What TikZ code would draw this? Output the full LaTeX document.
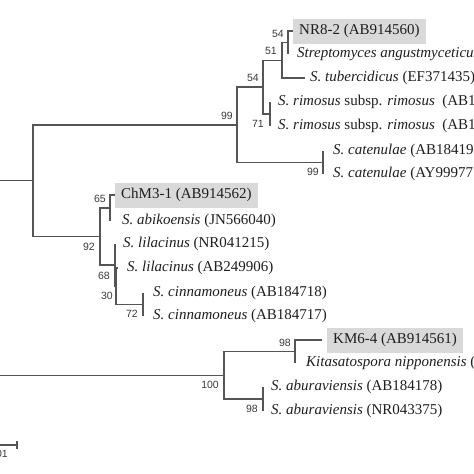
\documentclass[tikz,border=0pt]{standalone}
\usepackage{fontspec}
\setmainfont{Liberation Serif}
\newfontfamily\bsfont{Liberation Sans}
\definecolor{branchc}{HTML}{555555}
\definecolor{txtc}{HTML}{1E1E1E}
\definecolor{bootc}{HTML}{3A3A3A}
\definecolor{boxc}{HTML}{D9D9D9}
\begin{document}
\begin{tikzpicture}[x=1pt,y=-1pt,
  branch/.style={draw=branchc, line width=1.45pt},
  leaf/.style={anchor=west, inner xsep=0pt, inner ysep=0pt, text height=10.5pt, text depth=3.5pt, font=\fontsize{15}{18}\selectfont, text=txtc},
  strain/.style={leaf, fill=boxc, inner xsep=6pt, inner ysep=5.5pt},
  boot/.style={anchor=east, inner sep=0pt, font=\bsfont\fontsize{10.5}{12}\selectfont, text=bootc},
]
\useasboundingbox (0,0) rectangle (474,474);

% internal nodes
\coordinate (n54a) at (288,42.5);
\coordinate (n51)  at (282,60.25);
\coordinate (n71)  at (270,114);
\coordinate (n54b) at (263,87.1);
\coordinate (n99c) at (323,162.5);
\coordinate (n99)  at (237,124.8);
\coordinate (n65)  at (110,208);
\coordinate (n72)  at (143,304.5);
\coordinate (n30)  at (116,286.25);
\coordinate (n68)  at (115,265.1);
\coordinate (n92)  at (100,236.6);
\coordinate (nA)   at (33,180.7);
\coordinate (n98a) at (295,351.5);
\coordinate (n98b) at (263,399);
\coordinate (n100) at (224,375.25);
\coordinate (root) at (-10,278);

% tips
\coordinate (t2)  at (288,54);
\coordinate (t3)  at (305,78);
\coordinate (t4)  at (270,102);
\coordinate (t5)  at (270,126);
\coordinate (t6)  at (323,151);
\coordinate (t7)  at (323,174);
\coordinate (t9)  at (110,221);
\coordinate (t10) at (115,244);
\coordinate (t11) at (118,268);
\coordinate (t12) at (143,293);
\coordinate (t13) at (143,316);
\coordinate (t14) at (322,340);
\coordinate (t15) at (295,363);
\coordinate (t16) at (263,387);
\coordinate (t17) at (263,411);

% leaf labels
\node[strain] (l1) at (293,31) {NR8-2 (AB914560)};
\node[leaf] (l2) at (297,54) {\textit{Streptomyces angustmyceticus}};
\node[leaf] (l3) at (310,78) {\textit{S. tubercidicus} (EF371435)};
\node[leaf] (l4) at (278,102) {\textit{S. rimosus} subsp. \textit{rimosus}\ \ (AB1};
\node[leaf] (l5) at (278,126) {\textit{S. rimosus} subsp. \textit{rimosus}\ \ (AB1};
\node[leaf] (l6) at (333,151) {\textit{S. catenulae} (AB18419};
\node[leaf] (l7) at (333,174) {\textit{S. catenulae} (AY99977};
\node[strain] (l8) at (115,195) {ChM3-1 (AB914562)};
\node[leaf] (l9) at (122,221) {\textit{S. abikoensis} (JN566040)};
\node[leaf] (l10) at (123,244) {\textit{S. lilacinus} (NR041215)};
\node[leaf] (l11) at (127,268) {\textit{S. lilacinus} (AB249906)};
\node[leaf] (l12) at (153,293) {\textit{S. cinnamoneus} (AB184718)};
\node[leaf] (l13) at (153,316) {\textit{S. cinnamoneus} (AB184717)};
\node[strain] (l14) at (327,340) {KM6-4 (AB914561)};
\node[leaf] (l15) at (306,363) {\textit{Kitasatospora nipponensis} (};
\node[leaf] (l16) at (271,387) {\textit{S. aburaviensis} (AB184178)};
\node[leaf] (l17) at (271,411) {\textit{S. aburaviensis} (NR043375)};

% branches
\draw[branch] (n54a) |- (l1.west);
\draw[branch] (n54a) |- (t2);
\draw[branch] (n51) |- (n54a);
\draw[branch] (n51) |- (t3);
\draw[branch] (n71) |- (t4);
\draw[branch] (n71) |- (t5);
\draw[branch] (n54b) |- (n51);
\draw[branch] (n54b) |- (n71);
\draw[branch] (n99c) |- (t6);
\draw[branch] (n99c) |- (t7);
\draw[branch] (n99) |- (n54b);
\draw[branch] (n99) |- (n99c);
\draw[branch] (n65) |- (l8.west);
\draw[branch] (n65) |- (t9);
\draw[branch] (n72) |- (t12);
\draw[branch] (n72) |- (t13);
\draw[branch] (n30) |- (t11);
\draw[branch] (n30) |- (n72);
\draw[branch] (n68) |- (t10);
\draw[branch] (n68) |- (n30);
\draw[branch] (n92) |- (n65);
\draw[branch] (n92) |- (n68);
\draw[branch] (nA) |- (n99);
\draw[branch] (nA) |- (n92);
\draw[branch] (n98a) |- (t14);
\draw[branch] (n98a) |- (t15);
\draw[branch] (n98b) |- (t16);
\draw[branch] (n98b) |- (t17);
\draw[branch] (n100) |- (n98a);
\draw[branch] (n100) |- (n98b);
\draw[branch] (root) |- (nA);
\draw[branch] (root) |- (n100);

% bootstrap values
\node[boot] (b54a) at (284,34) {54};
\node[boot] (b51)  at (277,51) {51};
\node[boot] (b54b) at (259,78) {54};
\node[boot] (b71)  at (264,124) {71};
\node[boot] (b99c) at (319,172) {99};
\node[boot] (b99)  at (233,116) {99};
\node[boot] (b65)  at (106,199) {65};
\node[boot] (b92)  at (95,247) {92};
\node[boot] (b68)  at (110,276) {68};
\node[boot] (b30)  at (113,296) {30};
\node[boot] (b72)  at (138,314) {72};
\node[boot] (b98a) at (291,343) {98};
\node[boot] (b100) at (219,385) {100};
\node[boot] (b98b) at (258,409) {98};

% scale bar
\coordinate (sb1) at (-20,445);
\coordinate (sb2) at (17,445);
\coordinate (sbt1) at (17,441);
\coordinate (sbt2) at (17,449);
\draw[draw=branchc, line width=1.1pt] (sb1) -- (sb2);
\draw[draw=branchc, line width=1.1pt] (sbt1) -- (sbt2);
\node[boot, anchor=north east] (sbl) at (8,450) {0.01};
\end{tikzpicture}
\end{document}
